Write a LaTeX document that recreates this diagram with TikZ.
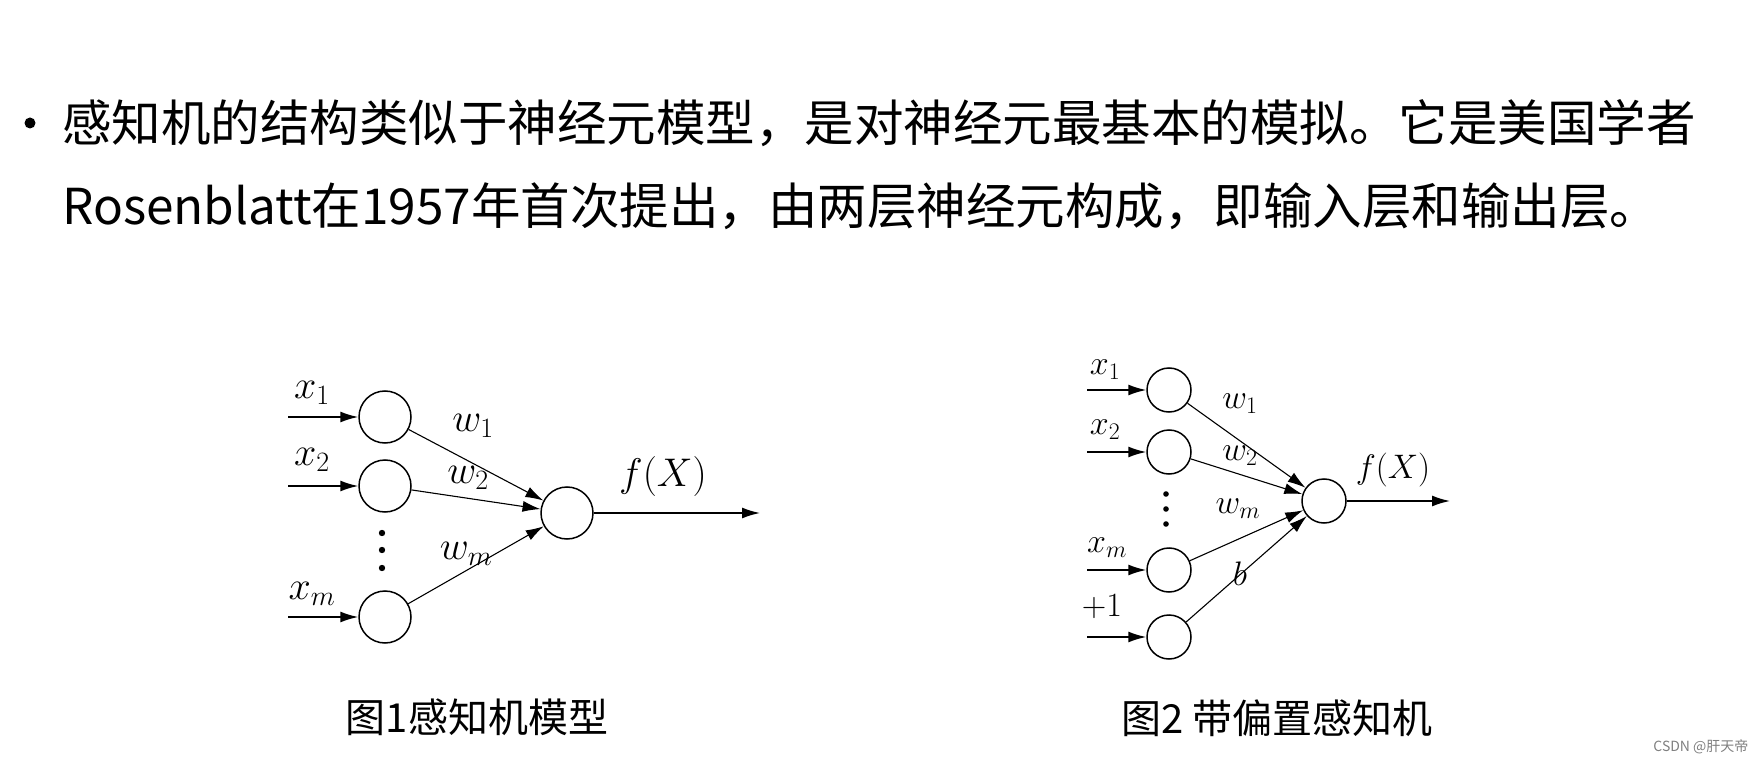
\documentclass[tikz,border=0pt]{standalone}
\usepackage{anyfontsize}
\usepackage{fontspec}
\setmainfont{Noto Sans CJK SC}
\usetikzlibrary{arrows.meta}
\begin{document}
\begin{tikzpicture}[x=1pt,y=-1pt,
  neuronA/.style={circle,draw,line width=1.5pt,minimum size=52pt,inner sep=0pt},
  neuronB/.style={circle,draw,line width=1.5pt,minimum size=44pt,inner sep=0pt},
  arr/.style={line width=1.6pt,-{Latex[length=18pt,width=11pt]}},
  warr/.style={line width=1.1pt,-{Latex[length=18pt,width=11pt]}},
  lblA/.style={font=\fontsize{40}{40}\selectfont},
  lblB/.style={font=\fontsize{34}{34}\selectfont},
  captext/.style={font=\fontsize{40}{40}\selectfont}]
\useasboundingbox (0,0) rectangle (1759,767);
\fill[white] (0,0) rectangle (1759,767);
% text
\fill (30,123) circle (5.5pt);
\node[anchor=west,font=\fontsize{49.5}{49.5}\selectfont,inner sep=0pt] (t1) at (62,123) {感知机的结构类似于神经元模型，是对神经元最基本的模拟。它是美国学者};
\node[anchor=west,font=\fontsize{49.5}{49.5}\selectfont,inner sep=0pt] (t2) at (62,206) {Rosenblatt在1957年首次提出，由两层神经元构成，即输入层和输出层。};
% Figure 1
\node[neuronA] (a1) at (385,417) {};
\node[neuronA] (a2) at (385,486) {};
\node[neuronA] (am) at (385,617) {};
\node[neuronA] (ao) at (567,513) {};
\coordinate (ai1) at (288,417);
\coordinate (ai2) at (288,486);
\coordinate (aim) at (288,617);
\coordinate (aout) at (760,513);
\draw[arr] (ai1) -- (a1);
\draw[arr] (ai2) -- (a2);
\draw[arr] (aim) -- (am);
\draw[warr] (a1) -- (ao);
\draw[warr] (a2) -- (ao);
\draw[warr] (am) -- (ao);
\draw[arr] (ao) -- (aout);
\foreach \y in {533,550,568} \fill (382,\y) circle (3.2pt);
\node[lblA] (lx1) at (312,393) {$x_1$};
\node[lblA] (lx2) at (312,460) {$x_2$};
\node[lblA] (lxm) at (312,594) {$x_m$};
\node[lblA] (lw1) at (473,426) {$w_1$};
\node[lblA] (lw2) at (468,478) {$w_2$};
\node[lblA] (lwm) at (466,554) {$w_m$};
\node[lblA] (lf) at (663,476) {$f(X)$};
\node[captext] (c1) at (477,717) {图1感知机模型};
% Figure 2
\node[neuronB] (b1) at (1169,390) {};
\node[neuronB] (b2) at (1169,452) {};
\node[neuronB] (bm) at (1169,570) {};
\node[neuronB] (bb) at (1169,637) {};
\node[neuronB] (bo) at (1324,501) {};
\coordinate (bi1) at (1087,390);
\coordinate (bi2) at (1087,452);
\coordinate (bim) at (1087,570);
\coordinate (bib) at (1087,637);
\coordinate (bout) at (1450,501);
\draw[arr] (bi1) -- (b1);
\draw[arr] (bi2) -- (b2);
\draw[arr] (bim) -- (bm);
\draw[arr] (bib) -- (bb);
\draw[warr] (b1) -- (bo);
\draw[warr] (b2) -- (bo);
\draw[warr] (bm) -- (bo);
\draw[warr] (bb) -- (bo);
\draw[arr] (bo) -- (bout);
\foreach \y in {494,509,524} \fill (1166,\y) circle (2.8pt);
\node[lblB] (mx1) at (1105,370) {$x_1$};
\node[lblB] (mx2) at (1105,430) {$x_2$};
\node[lblB] (mxm) at (1107,548) {$x_m$};
\node[lblB] (mp1) at (1102,607) {$+1$};
\node[lblB] (mw1) at (1240,404) {$w_1$};
\node[lblB] (mw2) at (1240,456) {$w_2$};
\node[lblB] (mwm) at (1238,509) {$w_m$};
\node[lblB] (mb) at (1240,574) {$b$};
\node[lblB] (mf) at (1393,470) {$f(X)$};
\node[captext] (c2) at (1277,718) {图2\ 带偏置感知机};
\node[anchor=east,font=\fontsize{14}{14}\selectfont,text=gray] (wm) at (1752,747) {CSDN @肝天帝};
\end{tikzpicture}
\end{document}
